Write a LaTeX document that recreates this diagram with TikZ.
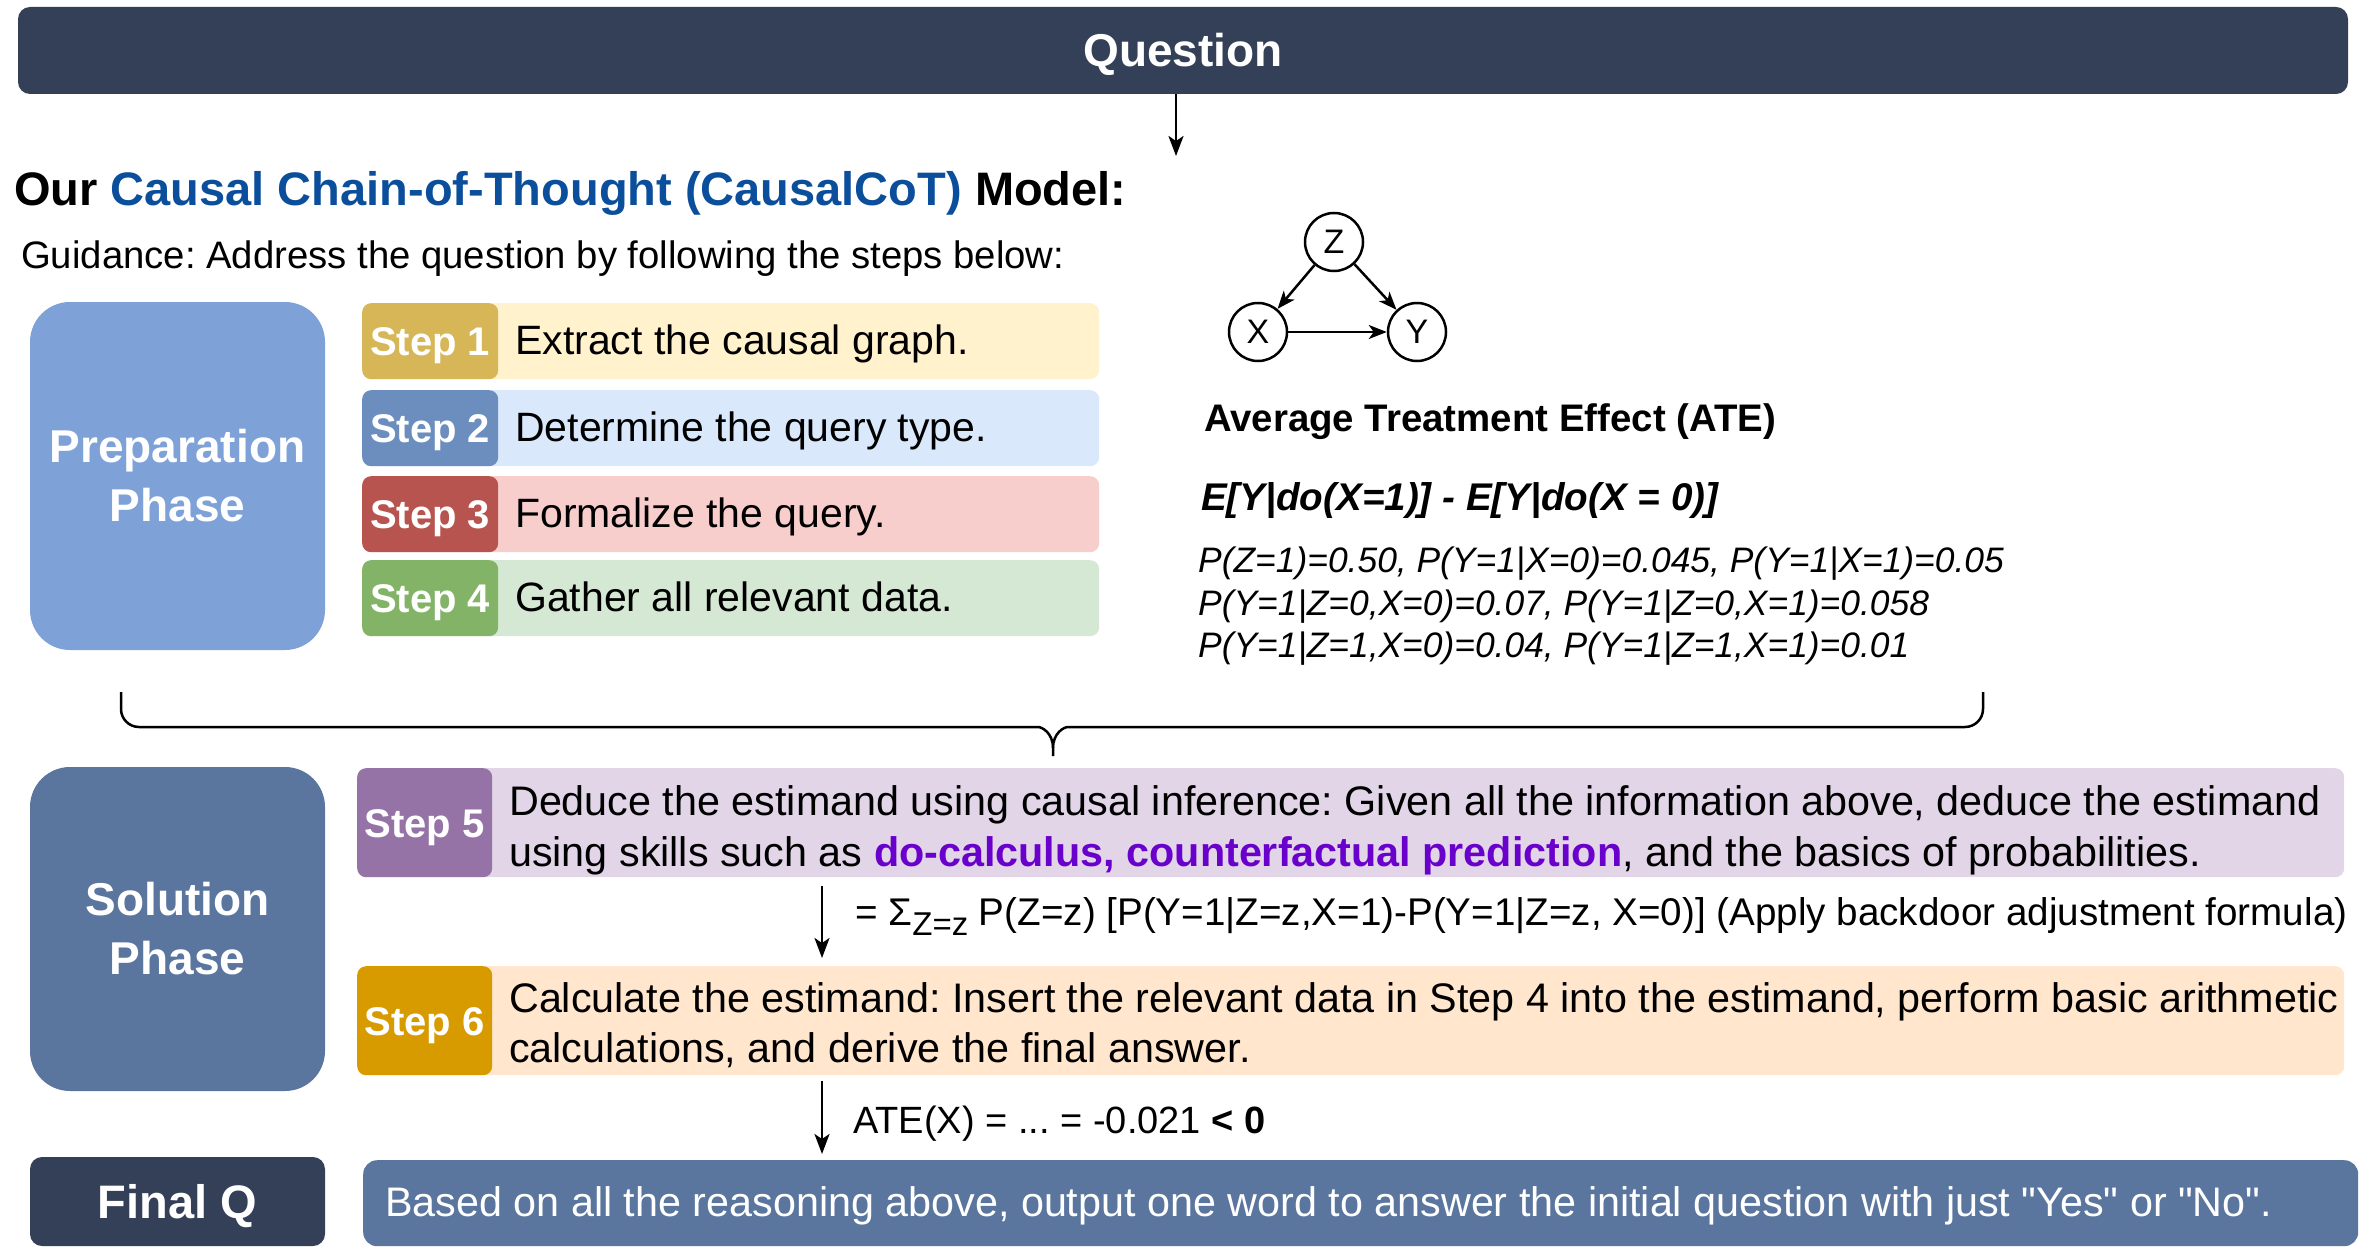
\documentclass[tikz,border=0pt]{standalone}
\usepackage{fontspec}
\setmainfont{Liberation Sans}[Ligatures=TeXOff]
\usetikzlibrary{arrows.meta}
\frenchspacing
\definecolor{navy}{HTML}{344058}
\definecolor{solblue}{HTML}{5A759E}
\definecolor{prepblue}{HTML}{7EA2D8}
\definecolor{titleblue}{HTML}{0B4F9C}
\definecolor{purp}{HTML}{6A00CC}
\definecolor{la}{HTML}{D6B656}\definecolor{ba}{HTML}{FFF2CC}
\definecolor{lb}{HTML}{6C8EBF}\definecolor{bb}{HTML}{DAE8FC}
\definecolor{lc}{HTML}{B85450}\definecolor{bc}{HTML}{F8CECC}
\definecolor{ld}{HTML}{82B366}\definecolor{bd}{HTML}{D5E8D4}
\definecolor{le}{HTML}{9673A6}\definecolor{be}{HTML}{E1D5E7}
\definecolor{lf}{HTML}{D79B00}\definecolor{bf}{HTML}{FFE6CC}
\newcommand{\fsz}[2]{\fontsize{#1}{#2}\selectfont}
\tikzset{
  arr/.style={line width=2.5pt, -{Stealth[length=20pt,width=15pt,inset=5pt]}},
  garr/.style={line width=2.5pt, -{Stealth[length=18pt,width=14pt,inset=5pt]}},
  phase/.style={rounded corners=40pt, inner sep=0pt, text=white, align=center, font=\fsz{46}{59}\bfseries},
  bodybox/.style={rounded corners=9pt, inner sep=0pt, anchor=north west},
  labbox/.style={rounded corners=9pt, inner sep=0pt, anchor=north west, text=white, text height=29pt, text depth=0pt, font=\fsz{40}{48}\bfseries},
  steptxt/.style={anchor=base west, inner sep=0pt, font=\fsz{41}{49}},
  longtxt/.style={anchor=base west, inner sep=0pt, font=\fsz{41.3}{50}},
  plain/.style={anchor=base west, inner sep=0pt},
  vert/.style={circle, draw, line width=2.5pt, minimum size=58pt, inner sep=0pt, font=\fsz{34}{40}},
  brc/.style={line width=2.5pt}
}
\begin{document}
\begin{tikzpicture}[x=1pt,y=-1pt]
\useasboundingbox (0,0) rectangle (2368,1260);
% Question bar
\node[fill=navy, rounded corners=12pt, minimum width=2330pt, minimum height=87pt, inner sep=0pt, text=white, text height=33pt, text depth=0pt, font=\fsz{46}{55}\bfseries] (q) at (1183,50.5) {Question};
\coordinate (qa) at (1176,156);
\draw[arr] (q.south -| qa) -- (qa);
% title
\node[plain, font=\fsz{47}{56}\bfseries] (title) at (14,205) {Our \textcolor{titleblue}{Causal Chain-of-Thought (CausalCoT)} Model:};
\node[plain, font=\fsz{38.3}{46}] (guide) at (21,268) {Guidance: Address the question by following the steps below:};
% preparation
\node[phase, fill=prepblue, minimum width=295pt, minimum height=348pt] (prep) at (177.5,476) {Preparation\\Phase};
% steps 1-4
\node[bodybox, fill=ba, minimum width=737pt, minimum height=76pt] (b1) at (362,303) {};
\node[labbox, fill=la, minimum width=136pt, minimum height=76pt] (s1) at (b1.north west) {Step 1};
\node[steptxt] (t1) at ([xshift=153pt,yshift=-13pt]b1.west) {Extract the causal graph.};
\node[bodybox, fill=bb, minimum width=737pt, minimum height=76pt] (b2) at (362,390) {};
\node[labbox, fill=lb, minimum width=136pt, minimum height=76pt] (s2) at (b2.north west) {Step 2};
\node[steptxt] (t2) at ([xshift=153pt,yshift=-13pt]b2.west) {Determine the query type.};
\node[bodybox, fill=bc, minimum width=737pt, minimum height=76pt] (b3) at (362,476) {};
\node[labbox, fill=lc, minimum width=136pt, minimum height=76pt] (s3) at (b3.north west) {Step 3};
\node[steptxt] (t3) at ([xshift=153pt,yshift=-13pt]b3.west) {Formalize the query.};
\node[bodybox, fill=bd, minimum width=737pt, minimum height=76pt] (b4) at (362,560) {};
\node[labbox, fill=ld, minimum width=136pt, minimum height=76pt] (s4) at (b4.north west) {Step 4};
\node[steptxt] (t4) at ([xshift=153pt,yshift=-13pt]b4.west) {Gather all relevant data.};
% causal graph
\node[vert] (Z) at (1334,242) {Z};
\node[vert] (X) at (1258,332) {X};
\node[vert] (Y) at (1417,332) {Y};
\draw[garr] (Z) -- (X);
\draw[garr] (Z) -- (Y);
\draw[garr] (X) -- (Y);
\node[plain, font=\fsz{38.4}{46}\bfseries] (ate) at (1204,431) {Average Treatment Effect (ATE)};
\node[plain, font=\fsz{38.6}{46}\bfseries\itshape] (est) at (1201,510) {E[Y|do(X=1)] - E[Y|do(X = 0)]};
\node[plain, font=\fsz{35.4}{42}\itshape] (p1) at (1198,572) {P(Z=1)=0.50, P(Y=1|X=0)=0.045, P(Y=1|X=1)=0.05};
\node[plain, font=\fsz{35.4}{42}\itshape] (p2) at (1198,615) {P(Y=1|Z=0,X=0)=0.07, P(Y=1|Z=0,X=1)=0.058};
\node[plain, font=\fsz{35.4}{42}\itshape] (p3) at (1198,657) {P(Y=1|Z=1,X=0)=0.04, P(Y=1|Z=1,X=1)=0.01};
% brace
\draw[brc] (121,692) [rounded corners=18pt] -- (121,727) -- (1020,727) [sharp corners] .. controls (1042,727) and (1053,733) .. (1053,748) -- (1053,756);
\draw[brc] (1983,692) [rounded corners=18pt] -- (1983,727) -- (1086,727) [sharp corners] .. controls (1064,727) and (1053,733) .. (1053,748);
% solution
\node[phase, fill=solblue, minimum width=295pt, minimum height=324pt] (sol) at (177.5,929) {Solution\\Phase};
\node[bodybox, fill=be, minimum width=1987pt, minimum height=109pt] (b5) at (357,768) {};
\node[labbox, fill=le, minimum width=135pt, minimum height=109pt] (s5) at (b5.north west) {Step 5};
\node[longtxt] (t5a) at (509,815) {Deduce the estimand using causal inference: Given all the information above, deduce the estimand};
\node[longtxt] (t5b) at (509,866) {using skills such as \textcolor{purp}{\bfseries do-calculus, counterfactual prediction}, and the basics of probabilities.};
\node[bodybox, fill=bf, minimum width=1987pt, minimum height=109pt] (b6) at (357,966) {};
\node[labbox, fill=lf, minimum width=135pt, minimum height=109pt] (s6) at (b6.north west) {Step 6};
\node[longtxt] (t6a) at (509,1012) {Calculate the estimand: Insert the relevant data in Step 4 into the estimand, perform basic arithmetic};
\node[longtxt] (t6b) at (509,1062) {calculations, and derive the final answer.};
% arrows and formulas
\coordinate (ax) at (822,0);
\draw[arr, shorten <=9pt, shorten >=8pt] (b5.south -| ax) -- (b6.north -| ax);
\node[plain, font=\fsz{38.6}{44}] (f1) at (855,925) {= Σ\raisebox{-10pt}{\fsz{33}{38}Z=z} P(Z=z) [P(Y=1|Z=z,X=1)-P(Y=1|Z=z, X=0)] (Apply backdoor adjustment formula)};
% final
\node[fill=navy, rounded corners=12pt, minimum width=295pt, minimum height=89pt, inner sep=0pt, text=white, text height=34pt, text depth=0pt, font=\fsz{47}{56}\bfseries] (fq) at (177.5,1201.5) {Final Q};
\node[bodybox, fill=solblue, rounded corners=14pt, minimum width=1995pt, minimum height=86pt] (fb) at (363,1160) {};
\node[plain, text=white, font=\fsz{41.3}{48}] (ft) at (385,1216) {Based on all the reasoning above, output one word to answer the initial question with just "Yes" or "No".};
\draw[arr, shorten <=6pt, shorten >=6pt] (b6.south -| ax) -- (fb.north -| ax);
\node[plain, font=\fsz{38}{44}] (atev) at (853,1133) {ATE(X) = ... = -0.021 \textbf{< 0}};
\end{tikzpicture}
\end{document}
